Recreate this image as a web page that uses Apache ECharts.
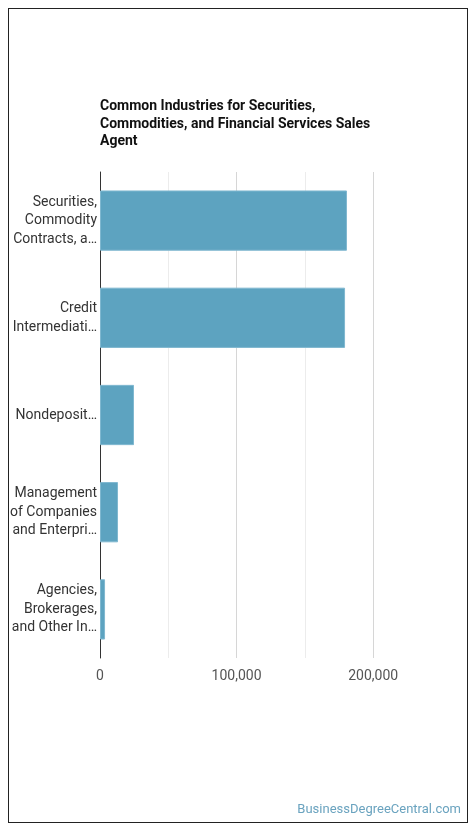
<!DOCTYPE html>
<html>
<head>
<meta charset="utf-8">
<script src="https://cdn.jsdelivr.net/npm/echarts@6/dist/echarts.min.js"></script>
<style>
	body { margin: 0; background: #fff; }
	#frame { position: absolute; left: 8px; top: 8px; width: 458px; height: 813px; border: 1px solid #222; }
	#chart { position: absolute; left: 0; top: 0; width: 476px; height: 833px; }
</style>
</head>
<body>
<div id="frame"></div>
<div id="chart"></div>
<script>
var titleText = 'Common Industries for Securities, Commodities, and Financial Services Sales Agent';
var categories = [
	'Securities,\nCommodity\nContracts, a\u2026',
	'Credit\nIntermediati\u2026',
	'Nondeposit\u2026',
	'Management\nof Companies\nand Enterpri\u2026',
	'Agencies,\nBrokerages,\nand Other In\u2026'
];
var employment = [180800, 179400, 24900, 13200, 3700];
var tickValues = [0, 50000, 100000, 150000, 200000, 250000];

var myChart = echarts.init(document.getElementById('chart'));
var gridColors = ['#e6e6e6', '#ececec', '#d6d6d6', '#ececec', '#d6d6d6', 'rgba(0,0,0,0)'];

var option = {
	animation: false,
	textStyle: { fontFamily: 'Roboto' },
	title: {
		text: titleText,
		left: 100,
		top: 98,
		padding: 0,
		textStyle: {
			fontFamily: 'Roboto',
			fontSize: 14,
			fontWeight: 'bold',
			color: '#111',
			lineHeight: 17.5,
			width: 300,
			overflow: 'break'
		}
	},
	grid: {
		left: 100,
		right: 34.5,
		top: 172,
		bottom: 175
	},
	xAxis: {
		type: 'value',
		min: tickValues[0],
		max: tickValues[tickValues.length - 1],
		interval: 50000,
		axisLine: { show: false },
		axisTick: { show: false },
		splitLine: { show: true, lineStyle: { color: gridColors, width: 1 } },
		axisLabel: {
			color: '#555',
			fontSize: 14,
			margin: 11,
			formatter: function(v){
				if (v % 100000 != 0) return '';
				return v.toLocaleString('en-US');
			},
			showMaxLabel: false
		}
	},
	yAxis: {
		type: 'category',
		data: categories,
		inverse: true,
		axisLine: { show: true, lineStyle: { color: '#333', width: 1 } },
		axisTick: { show: false },
		axisLabel: {
			color: '#333',
			fontSize: 14,
			lineHeight: 18.5,
			margin: 3,
			align: 'right'
		}
	},
	series: [{
		type: 'bar',
		data: employment,
		barWidth: '62%',
		itemStyle: {
			color: '#5da3c0',
			borderColor: '#80b8d0',
			borderWidth: 1
		}
	}],
	graphic: [{
		type: 'text',
		right: 15,
		top: 803,
		style: {
			text: 'BusinessDegreeCentral.com',
			fontFamily: 'Roboto',
			fontSize: 13,
			fill: '#6aa3bf'
		}
	}]
};
myChart.setOption(option);
</script>
</body>
</html>
